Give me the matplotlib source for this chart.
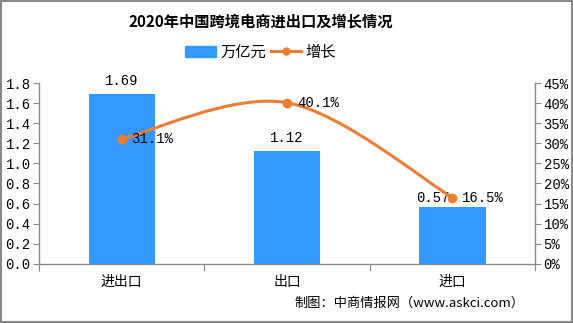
import matplotlib
matplotlib.use('Agg')
import matplotlib.pyplot as plt
from matplotlib.path import Path
from matplotlib.patches import PathPatch, Rectangle
from matplotlib.ticker import FuncFormatter, MultipleLocator

plt.rcParams['font.family'] = ['Noto Sans CJK SC', 'DejaVu Sans']

# 数据
categories = ['进出口', '出口', '进口']
values = [1.69, 1.12, 0.57]          # 万亿元
growth = [31.1, 40.1, 16.5]           # %

BLUE = '#3399FF'
ORANGE = '#ED7D31'
GRAY = '#888888'
NUM_FONT = 'Liberation Mono'

fig = plt.figure(figsize=(5.73, 3.23), dpi=100)
ax1 = fig.add_axes([0.068, 0.183, 0.866, 0.560])
ax2 = ax1.twinx()

x = list(range(len(categories)))
ax1.bar(x, values, width=0.4, color=BLUE, zorder=2, label='万亿元')
ax1.set_xlim(-0.5, len(categories) - 0.5)
ax1.set_ylim(0, 1.8)
ax1.yaxis.set_major_locator(MultipleLocator(0.2))
ax1.yaxis.set_major_formatter(FuncFormatter(lambda v, p: f'{v:.1f}'))

ax2.set_ylim(0, 45)
ax2.yaxis.set_major_locator(MultipleLocator(5))
ax2.yaxis.set_major_formatter(FuncFormatter(lambda v, p: f'{v:.0f}%'))

# 平滑曲线（Catmull-Rom 转三次贝塞尔）
pts = list(zip(x, growth))
verts = [pts[0]]
codes = [Path.MOVETO]
n = len(pts)
for i in range(n - 1):
    p0 = pts[i - 1] if i > 0 else pts[i]
    p1 = pts[i]
    p2 = pts[i + 1]
    p3 = pts[i + 2] if i + 2 < n else pts[i + 1]
    c1 = (p1[0] + (p2[0] - p0[0]) / 6, p1[1] + (p2[1] - p0[1]) / 6)
    c2 = (p2[0] - (p3[0] - p1[0]) / 6, p2[1] - (p3[1] - p1[1]) / 6)
    verts += [c1, c2, p2]
    codes += [Path.CURVE4] * 3
ax2.add_patch(PathPatch(Path(verts, codes), facecolor='none', edgecolor=ORANGE,
                        linewidth=2.2, zorder=3))
ax2.plot(x, growth, linestyle='none', marker='o', markersize=6, color=ORANGE, zorder=4)

# 数据标签
bar_offsets = [(0, 0.06, 'center'), (0, 0.06, 'center'), (-0.12, 0.02, 'center')]
for xi, v, (dx, dy, ha) in zip(x, values, bar_offsets):
    ax1.text(xi + dx, v + dy, f'{v:.2f}', ha=ha, va='bottom',
             fontsize=10, family=NUM_FONT, zorder=5)
for xi, g in zip(x, growth):
    ax2.text(xi + 0.06, g, f'{g:.1f}%', ha='left', va='center',
             fontsize=10, family=NUM_FONT, zorder=5)

# 坐标轴样式
for ax in (ax1, ax2):
    ax.spines['top'].set_visible(False)
    for s in ('left', 'right', 'bottom'):
        ax.spines[s].set_color(GRAY)
        ax.spines[s].set_linewidth(1)
ax1.spines['right'].set_visible(False)
ax2.spines['left'].set_visible(False)
ax2.spines['bottom'].set_visible(False)

ax1.tick_params(axis='y', colors=GRAY, labelcolor='black', length=4, direction='out', pad=2)
ax2.tick_params(axis='y', colors=GRAY, labelcolor='black', length=4, direction='out', pad=2)
for lbl in ax1.get_yticklabels() + ax2.get_yticklabels():
    lbl.set_family(NUM_FONT)
    lbl.set_fontsize(10)

# 类别刻度位于分界处
ax1.set_xticks([i - 0.5 for i in range(len(categories) + 1)])
ax1.set_xticklabels([])
ax1.tick_params(axis='x', colors=GRAY, length=5, direction='out')
ax1.set_xticks(x, minor=True)
ax1.set_xticklabels(categories, minor=True, fontsize=10)
ax1.tick_params(axis='x', which='minor', length=0, pad=8, labelcolor='black')

# 标题与图例
fig.text(0.455, 0.932, '2020年中国跨境电商进出口及增长情况', ha='center', va='center',
         fontsize=11, fontweight='bold')
handles = [Rectangle((0, 0), 1, 1, color=BLUE),
           plt.Line2D([], [], color=ORANGE, linewidth=2.2, marker='o', markersize=5)]
fig.legend(handles, ['万亿元', '增长'], loc='center', bbox_to_anchor=(0.455, 0.838),
           ncol=2, frameon=False, fontsize=11, handlelength=2.0, handletextpad=0.3,
           columnspacing=0.3)

fig.text(0.915, 0.062, '制图：中商情报网（www.askci.com）', ha='right', va='center', fontsize=9.5)

# 外框
fig.patches.append(Rectangle((0.001, 0.002), 0.997, 0.996, transform=fig.transFigure,
                             fill=False, edgecolor=GRAY, linewidth=1.5))

fig.savefig('out.png', dpi=100)
